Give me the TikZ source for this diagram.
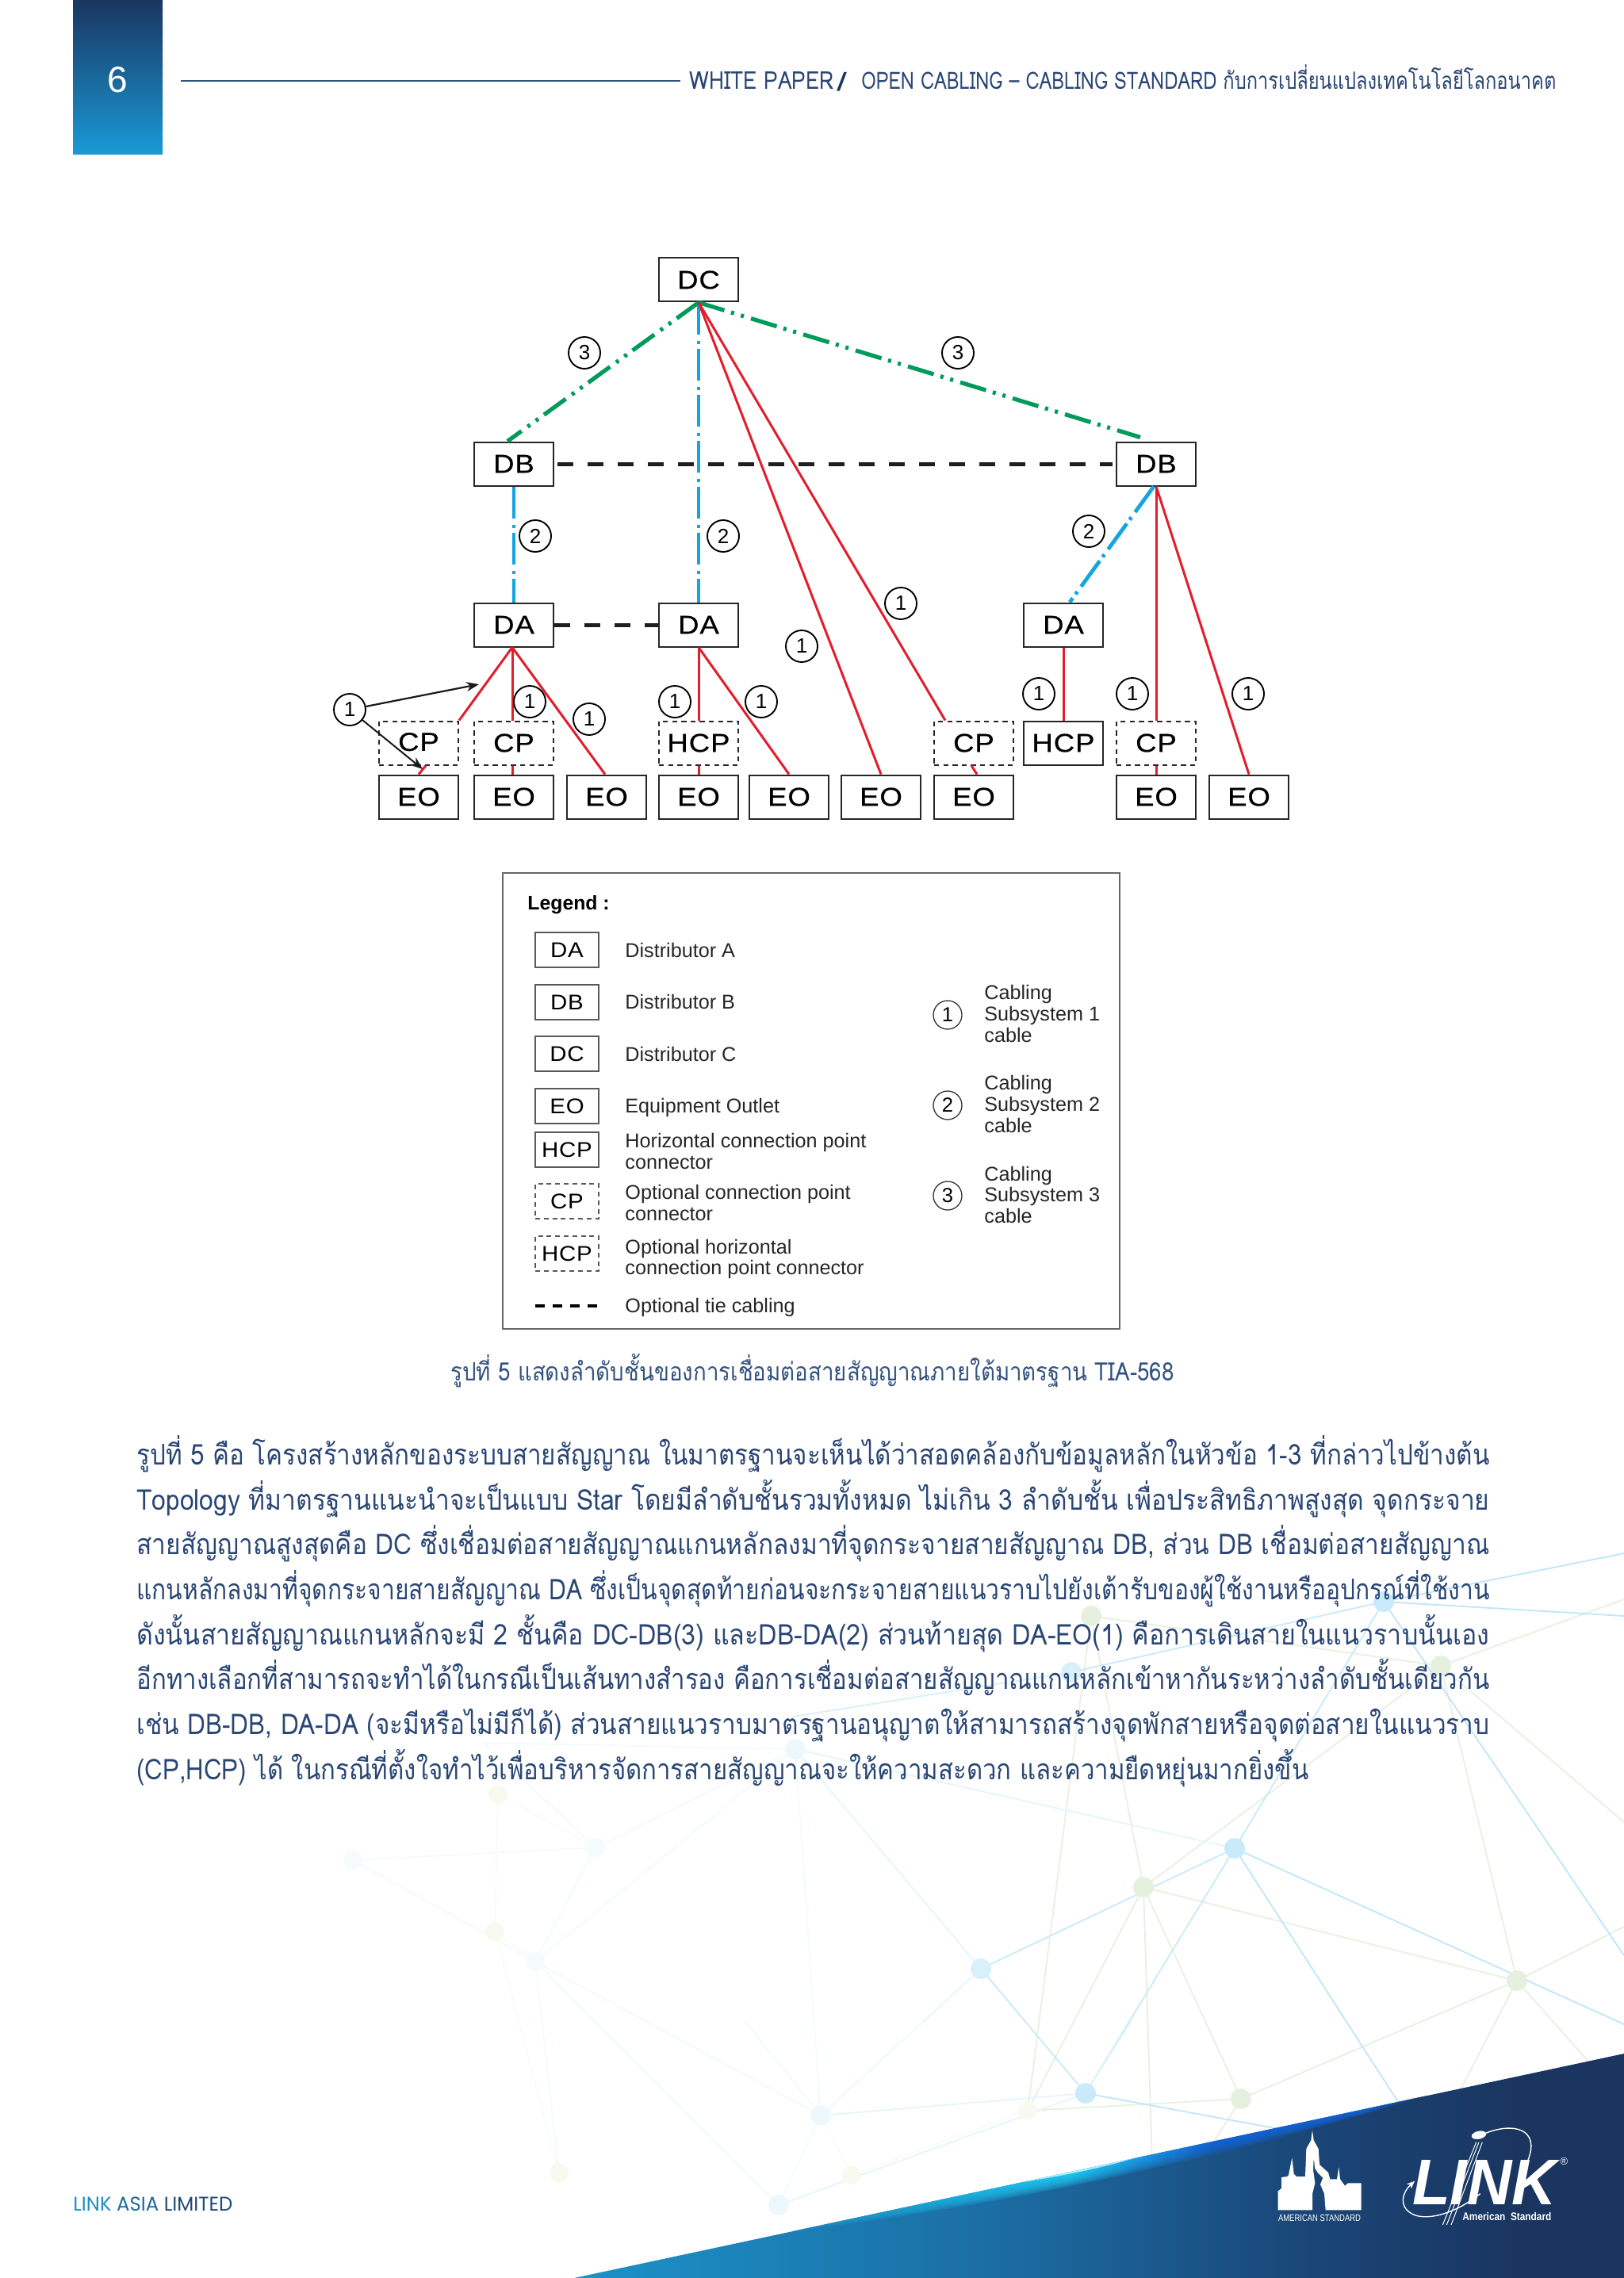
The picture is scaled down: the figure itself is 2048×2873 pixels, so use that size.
\documentclass[tikz,border=0pt]{standalone}
\usepackage{fontspec}
\usepackage{graphicx}
\usetikzlibrary{calc,arrows.meta}
\setmainfont{Liberation Sans}
\newfontfamily\thaifont[Script=Thai]{Loma}
\newfontfamily\boxfont[LetterSpace=3,FakeStretch=1.12,FakeBold=0.45]{Liberation Sans}
\newfontfamily\legboxfont[LetterSpace=3,FakeStretch=1.1]{Liberation Sans}
\newfontfamily\popfont{Poppins}
\newcommand\fitw[2]{\resizebox{#1}{\height}{#2}}
\definecolor{navy}{HTML}{1A3560}
\definecolor{ink}{HTML}{2A4675}
\definecolor{capt}{HTML}{34527F}
\definecolor{sky}{HTML}{1A9AD6}
\definecolor{redl}{HTML}{E21E2D}
\definecolor{bluel}{HTML}{14A5E0}
\definecolor{greenl}{HTML}{009A5A}
\definecolor{tria}{HTML}{1B93C9}
\definecolor{trib}{HTML}{1B6DA3}
\definecolor{tric}{HTML}{1A4677}
\definecolor{hla}{HTML}{1B86BE}
\definecolor{hlb}{HTML}{20D8FF}
\definecolor{hlc}{HTML}{1166E0}
\definecolor{hld}{HTML}{1A3F70}
\definecolor{streak}{HTML}{C8F6FF}
\definecolor{bgG}{RGB}{232,240,224}
\definecolor{bgGp}{RGB}{249,251,245}
\definecolor{bgBa}{RGB}{200,234,248}
\definecolor{bgBb}{RGB}{191,230,248}
\definecolor{bgBc}{RGB}{215,240,250}
\definecolor{bgBd}{RGB}{228,245,252}
\definecolor{bgBp}{RGB}{243,250,253}
\definecolor{bgBq}{RGB}{232,246,252}
\definecolor{dotA}{RGB}{200,234,250}
\definecolor{dotB}{RGB}{215,240,250}
\definecolor{dotC}{RGB}{236,248,252}
\definecolor{dotD}{RGB}{245,251,253}
\definecolor{dotG}{RGB}{230,240,222}
\definecolor{dotH}{RGB}{248,250,240}
\definecolor{rulec}{RGB}{50,85,125}
\pgfdeclarehorizontalshading{tribase}{100bp}{color(0bp)=(tria); color(25bp)=(tria); color(45bp)=(trib); color(60bp)=(tric); color(70bp)=(navy); color(100bp)=(navy)}
\pgfdeclarehorizontalshading{glow}{100bp}{color(0bp)=(hla); color(25bp)=(hla); color(47bp)=(hlb); color(58bp)=(hlc); color(70bp)=(hlc); color(75bp)=(hld); color(100bp)=(hld)}
\tikzset{
  boxs/.style={draw=black!85,line width=1pt,fill=white,minimum width=50pt,minimum height=27.5pt,inner sep=0pt,font=\boxfont\fontsize{16.3}{18}\selectfont},
  dboxs/.style={boxs,dash pattern=on 3.2pt off 2.6pt},
  lbox/.style={draw=black!65,line width=.6pt,minimum width=40pt,minimum height=22pt,inner sep=0pt,font=\legboxfont\fontsize{13.4}{15}\selectfont},
  dlbox/.style={lbox,dash pattern=on 3pt off 2.4pt},
  cnum/.style={circle,draw=black,line width=.95pt,fill=white,minimum size=20pt,inner sep=0pt,font=\fontsize{13}{14}\selectfont},
  lnum/.style={circle,draw=black!80,line width=.65pt,fill=white,minimum size=18pt,inner sep=0pt,font=\fontsize{12.8}{14}\selectfont},
  legt/.style={anchor=base west,inner sep=0pt,font=\fontsize{12.6}{14}\selectfont,text=black!85},
  body/.style={anchor=base west,inner sep=0pt,font=\thaifont\fontsize{18}{20}\selectfont,text=ink},
  redc/.style={draw=redl,line width=1.5pt},
  bluec/.style={draw=bluel,line width=2.4pt,dash pattern=on 20pt off 4pt on 2pt off 3pt},
  greenc/.style={draw=greenl,line width=2.6pt,dash pattern=on 17pt off 4.4pt on 2pt off 4.4pt on 2pt off 4.7pt},
  tiec/.style={draw=black!88,line width=2.5pt,dash pattern=on 10pt off 9pt},
  bgl/.style={draw=#1,line width=.9pt},
}
\begin{document}
\begin{tikzpicture}[x=0.5pt,y=-0.5pt]
\path[use as bounding box] (0,0) rectangle (2048,2873);
% background network
\coordinate (n1) at (1557,2331); \coordinate (n2) at (1237,2483); \coordinate (n3) at (1369,2640);
\coordinate (n4) at (1035,2668); \coordinate (n5) at (1745,2020); \coordinate (n6) at (1351,2109);
\coordinate (n7) at (1003,2206);
\coordinate (g1) at (1442,2380); \coordinate (g2) at (1913,2498); \coordinate (g3) at (1817,2101);
\coordinate (g4) at (1376,2038); \coordinate (g5) at (1565,2647); \coordinate (g6) at (1296,2662);
\coordinate (g7) at (1074,2743);
\coordinate (p2) at (982,2781); \coordinate (p3) at (675,2474); \coordinate (p4) at (751,2330);
\coordinate (p5) at (445,2346); \coordinate (p7) at (610,2198);
\coordinate (q1) at (624,2436); \coordinate (q2) at (628,2263); \coordinate (q3) at (705,2740);
% pale left part
\foreach \a/\b in {n4/p3,n7/p4,p3/p2,p3/p4,p4/p5,p3/p5,p7/p4,p7/n7,q3/p3,n7/p3}
  \draw[bgl=bgBp] (\a) -- (\b);
\foreach \a/\b in {q1/q2,q1/p3,q2/p4,q3/q1}
  \draw[bgl=bgGp] (\a) -- (\b);
% green lines
\foreach \a/\b in {g1/g2,g1/g5,g1/g6,g1/g3,g1/g4,g2/g3,g2/g5,g3/g4,g4/g6,g5/g6}
  \draw[bgl=bgG] (\a) -- (\b);
\foreach \a/\b in {g7/g6,g7/n4}
  \draw[bgl=bgGp] (\a) -- (\b);
\foreach \ex/\ey in {2048/2430,1829/2660,2003/2600}
  \draw[bgl=bgG] (g2) -- (\ex,\ey);
\foreach \ex/\ey in {2048/2298,2048/2017}
  \draw[bgl=bgG] (g3) -- (\ex,\ey);
\draw[bgl=bgG] (g1) -- (1454,2760);
\draw[bgl=bgG] (g5) -- (1500,2750);
% blue lines
\foreach \a/\b in {n1/n5,n1/n2,n1/n3,n2/n3,n5/n6}
  \draw[bgl=bgBa] (\a) -- (\b);
\foreach \a/\b in {n1/n7,n2/n4,n2/n7,n3/n4,n3/p2}
  \draw[bgl=bgBd] (\a) -- (\b);
\foreach \a/\b in {n4/p2,n7/n4}
  \draw[bgl=bgBp] (\a) -- (\b);
\draw[bgl=bgBb] (n1) -- (2048,2553);
\draw[bgl=bgBb] (n1) -- (1769,2660);
\draw[bgl=bgBb] (n3) -- (1640,2690);
\draw[bgl=bgBb] (n5) -- (2048,2038);
\draw[bgl=bgBb] (n5) -- (2048,1959);
\draw[bgl=bgBb] (n5) -- (2048,2466);
\draw[bgl=bgBc] (n6) -- (1000,2165);
\draw[bgl=bgBd] (n3) -- (1426,2550);
\draw[bgl=bgBp] (n4) -- (1164,2550);
\draw[bgl=bgBp] (n4) -- (940,2550);
\draw[bgl=bgBp] (n4) -- (816,2550);
% network dots
\foreach \c in {n1,n3,n5} \fill[dotA] (\c) circle [radius=13];
\foreach \c in {n2,n6} \fill[dotB] (\c) circle [radius=13];
\foreach \c in {n4,n7,p2} \fill[dotC] (\c) circle [radius=13];
\foreach \c in {p3,p4,p5} \fill[dotD] (\c) circle [radius=12];
\foreach \c in {g1,g2,g3,g4,g5} \fill[dotG] (\c) circle [radius=13];
\foreach \c in {g6,g7,q1,q2,q3} \fill[dotH] (\c) circle [radius=12];
% footer wedge
\shade[shading=tribase] (724,2873) -- (2048,2590) -- (2048,2873) -- cycle;
\foreach \d in {3,6,...,24}
  \shade[shading=glow,opacity=.22] (1000,2814) .. controls (1267,{2757+\d}) and (1533,{2700+\d}) .. (1800,2643) -- cycle;
\fill[streak,opacity=.85] (1290,2752) .. controls (1340,{2741+3}) and (1390,{2731+3}) .. (1430,2722) -- cycle;
% logos
\begin{scope}[shift={(1590,2660)},scale=0.33333]
\fill[white] (65,382) -- (65,310) -- (78,300) -- (78,258) -- (100,255) -- (105,250) -- (118,185) -- (125,245) -- (135,255) -- (168,255) -- (172,150) -- (190,118) -- (195,80) -- (200,118) -- (218,150) -- (222,210) -- (255,240) -- (262,265) -- (288,265) -- (295,220) -- (300,265) -- (318,290) -- (330,280) -- (380,280) -- (380,382) -- (245,382) -- (240,320) -- (225,285) -- (235,260) -- (215,240) -- (205,225) -- (200,185) -- (198,230) -- (205,280) -- (195,320) -- (195,382) -- cycle;
\node[inner sep=0pt,text=white] (logoA) at (222,413) {\fitw{52pt}{\fontsize{6}{7}\selectfont AMERICAN STANDARD}};
\node[inner sep=0pt,text=white,anchor=base west] (logoL) at (572,362) {\resizebox{91pt}{28pt}{\bfseries\itshape LINK}};
\node[inner sep=0pt,text=white,anchor=base west] (logoS) at (762,420) {\fitw{56pt}{\bfseries\fontsize{7}{8}\selectfont American\ \ Standard}};
\node[inner sep=0pt,text=white] (logoR) at (1147,198) {\fontsize{6.5}{7}\selectfont ®};
\fill[white,rotate around={12:(825,98)}] (825,98) ellipse [x radius=28,y radius=15];
\draw[white,line width=.5pt] (815,125) -- (688,438);
\draw[white,line width=.5pt] (825,125) -- (703,438);
\draw[white,line width=.5pt] (838,125) -- (720,438);
\draw[white,line width=.7pt] (848,92) .. controls (950,50) and (1060,70) .. (1010,195);
\draw[white,line width=.7pt,-{Stealth[length=5pt,width=4pt]}] (830,320) .. controls (730,400) and (620,425) .. (570,395) .. controls (525,370) and (530,320) .. (582,272);
\end{scope}
% header
\shade[top color=navy,bottom color=sky] (92,0) rectangle (205,195);
\node[inner sep=0pt,text=white,font=\fontsize{23}{25}\selectfont] (pgno) at (148,101) {6};
\coordinate (hl0) at (228,102); \coordinate (hl1) at (858,102);
\draw[draw=rulec,line width=1pt] (hl0) -- (hl1);
\node[body] (h1) at (869,113) {\fitw{91pt}{\fontsize{15.5}{17}\selectfont WHITE PAPER}};
\node[inner sep=0pt,text=navy,anchor=base west] (h2) at (1056,115) {\bfseries\itshape\fontsize{16}{18}\selectfont /};
\node[body] (h3) at (1086,113) {\fitw{438pt}{\fontsize{15}{17}\selectfont OPEN CABLING – CABLING STANDARD กับการเปลี่ยนแปลงเทคโนโลยีโลกอนาคต}};
% diagram boxes
\node[boxs] (dc) at (881,353) {DC};
\node[boxs] (dbl) at (648,585) {DB};
\node[boxs] (dbr) at (1458,585) {DB};
\node[boxs] (dal) at (648,788) {DA};
\node[boxs] (dam) at (881,788) {DA};
\node[boxs] (dar) at (1341,788) {DA};
\node[dboxs] (cp1) at (528,937) {\raisebox{1.5pt}{CP}};
\node[dboxs] (cp2) at (648,937) {CP};
\node[dboxs] (hcp1) at (881,937) {HCP};
\node[dboxs] (cp3) at (1228,937) {CP};
\node[boxs] (hcp2) at (1341,937) {HCP};
\node[dboxs] (cp4) at (1458,937) {CP};
\node[boxs] (eo1) at (528,1005) {EO};
\node[boxs] (eo2) at (648,1005) {EO};
\node[boxs] (eo3) at (765,1005) {EO};
\node[boxs] (eo4) at (881,1005) {EO};
\node[boxs] (eo5) at (995,1005) {EO};
\node[boxs] (eo6) at (1111,1005) {EO};
\node[boxs] (eo7) at (1228,1005) {EO};
\node[boxs] (eo8) at (1458,1005) {EO};
\node[boxs] (eo9) at (1575,1005) {EO};
% connectors
\draw[tiec] ($(dbl.east)+(4,0)$) -- ($(dbr.west)+(-4,0)$);
\draw[tiec] (dal.east) -- (dam.west);
\draw[bluec] (dbl.south) -- (dal.north);
\draw[bluec] (dc.south) -- (dam.north);
\draw[bluec] ($(dbr.south)+(-3,0)$) -- ($(dar.north)+(8,0)$);
\draw[greenc] (dc.south) -- ($(dbl.north)+(-8,0)$);
\draw[greenc] (dc.south) -- ($(dbr.north)+(-20,-5)$);
\draw[redc] (dc.south) -- (eo6.north);
\draw[redc] (dc.south) -- ($(cp3.north)+(-36,0)$);
\draw[redc] (dbr.south) -- (cp4.north);
\draw[redc] (dbr.south) -- (eo9.north);
\draw[redc] (cp4.south) -- (eo8.north);
\draw[redc] (dar.south) -- (hcp2.north);
\draw[redc] (dam.south) -- (hcp1.north);
\draw[redc] (dam.south) -- (eo5.north);
\draw[redc] (hcp1.south) -- (eo4.north);
\draw[redc] ($(dal.south)+(-2,0)$) -- (cp1.north east);
\draw[redc] ($(dal.south)+(-2,0)$) -- ($(cp2.north)+(-2,0)$);
\draw[redc] ($(dal.south)+(-2,0)$) -- ($(eo3.north)+(-2,0)$);
\draw[redc] ($(cp2.south)+(-2,0)$) -- ($(eo2.north)+(-2,0)$);
\draw[redc] ($(cp1.south)+(9,0)$) -- (eo1.north);
\draw[redc] ($(cp3.south)+(-3,0)$) -- ($(eo7.north)+(4,0)$);
% circled numbers
\node[cnum] (c3a) at (737,445) {3};
\node[cnum] (c3b) at (1208,445) {3};
\node[cnum] (c2a) at (675,676) {2};
\node[cnum] (c2b) at (912,676) {2};
\node[cnum] (c2c) at (1373,670) {2};
\node[cnum] (c1a) at (441,895) {1};
\node[cnum] (c1b) at (668,885) {1};
\node[cnum] (c1c) at (743,907) {1};
\node[cnum] (c1d) at (851,885) {1};
\node[cnum] (c1e) at (960,885) {1};
\node[cnum] (c1f) at (1011,815) {1};
\node[cnum] (c1g) at (1136,761) {1};
\node[cnum] (c1h) at (1310,875) {1};
\node[cnum] (c1i) at (1428,875) {1};
\node[cnum] (c1j) at (1574,875) {1};
\coordinate (arr1) at (604,863);
\coordinate (arr2) at (533,970);
\draw[black!90,line width=1.1pt,-{Stealth[length=8pt,width=6pt]}] (c1a) -- (arr1);
\draw[black!90,line width=1pt,-{Stealth[length=8pt,width=6pt]}] (c1a) -- (arr2);
% legend
\node[draw=black!60,line width=.7pt,minimum width=389pt,minimum height=287.5pt,inner sep=0pt] (legend) at (1023,1388.5) {};
\node[legt,font=\bfseries\fontsize{12.4}{14}\selectfont,text=black] (legT) at (665,1147) {Legend :};
\node[lbox] (lda) at (715,1198) {DA};
\node[lbox] (ldb) at (715,1264) {DB};
\node[lbox] (ldc) at (715,1329) {DC};
\node[lbox] (leo) at (715,1395) {EO};
\node[lbox] (lhcp) at (715,1450) {HCP};
\node[dlbox] (lcp) at (715,1515) {CP};
\node[dlbox] (lohcp) at (715,1581) {HCP};
\node[legt] (t1) at (788,1207) {Distributor A};
\node[legt] (t2) at (788,1272) {Distributor B};
\node[legt] (t3) at (788,1338) {Distributor C};
\node[legt] (t4) at (788,1403) {Equipment Outlet};
\node[legt] (t5a) at (788,1447) {Horizontal connection point};
\node[legt] (t5b) at (788,1474) {connector};
\node[legt] (t6a) at (788,1512) {Optional connection point};
\node[legt] (t6b) at (788,1539) {connector};
\node[legt] (t7a) at (788,1581) {Optional horizontal};
\node[legt] (t7b) at (788,1607) {connection point connector};
\node[legt] (t8) at (788,1655) {Optional tie cabling};
\coordinate (ltie0) at (675,1647); \coordinate (ltie1) at (757,1647);
\draw[draw=black,line width=1.7pt,dash pattern=on 6pt off 5pt] (ltie0) -- (ltie1);
\node[lnum] (ln1) at (1195,1280) {1};
\node[lnum] (ln2) at (1195,1394) {2};
\node[lnum] (ln3) at (1195,1508) {3};
\node[legt] (s1a) at (1241,1260) {Cabling};
\node[legt] (s1b) at (1241,1287) {Subsystem 1};
\node[legt] (s1c) at (1241,1314) {cable};
\node[legt] (s2a) at (1241,1374) {Cabling};
\node[legt] (s2b) at (1241,1401) {Subsystem 2};
\node[legt] (s2c) at (1241,1428) {cable};
\node[legt] (s3a) at (1241,1489) {Cabling};
\node[legt] (s3b) at (1241,1515) {Subsystem 3};
\node[legt] (s3c) at (1241,1542) {cable};
% caption
\node[body,text=capt] (cap) at (568,1741) {\fitw{456pt}{\fontsize{16}{18}\selectfont รูปที่ 5 แสดงลำดับชั้นของการเชื่อมต่อสายสัญญาณภายใต้มาตรฐาน TIA-568}};
% body
\node[body] (l1) at (172,1847) {\fitw{853pt}{รูปที่ 5 คือ โครงสร้างหลักของระบบสายสัญญาณ ในมาตรฐานจะเห็นได้ว่าสอดคล้องกับข้อมูลหลักในหัวข้อ 1-3 ที่กล่าวไปข้างต้น}};
\node[body] (l2) at (172,1904) {\fitw{853pt}{Topology ที่มาตรฐานแนะนำจะเป็นแบบ Star โดยมีลำดับชั้นรวมทั้งหมด ไม่เกิน 3 ลำดับชั้น เพื่อประสิทธิภาพสูงสุด จุดกระจาย}};
\node[body] (l3) at (172,1960) {\fitw{853pt}{สายสัญญาณสูงสุดคือ DC ซึ่งเชื่อมต่อสายสัญญาณแกนหลักลงมาที่จุดกระจายสายสัญญาณ DB, ส่วน DB เชื่อมต่อสายสัญญาณ}};
\node[body] (l4) at (172,2017) {\fitw{853pt}{แกนหลักลงมาที่จุดกระจายสายสัญญาณ DA ซึ่งเป็นจุดสุดท้ายก่อนจะกระจายสายแนวราบไปยังเต้ารับของผู้ใช้งานหรืออุปกรณ์ที่ใช้งาน}};
\node[body] (l5) at (172,2074) {\fitw{853pt}{ดังนั้นสายสัญญาณแกนหลักจะมี 2 ชั้นคือ DC-DB(3) และDB-DA(2) ส่วนท้ายสุด DA-EO(1) คือการเดินสายในแนวราบนั้นเอง}};
\node[body] (l6) at (172,2130) {\fitw{853pt}{อีกทางเลือกที่สามารถจะทำได้ในกรณีเป็นเส้นทางสำรอง คือการเชื่อมต่อสายสัญญาณแกนหลักเข้าหากันระหว่างลำดับชั้นเดียวกัน}};
\node[body] (l7) at (172,2187) {\fitw{853pt}{เช่น DB-DB, DA-DA (จะมีหรือไม่มีก็ได้) ส่วนสายแนวราบมาตรฐานอนุญาตให้สามารถสร้างจุดพักสายหรือจุดต่อสายในแนวราบ}};
\node[body] (l8) at (172,2244) {\fitw{739pt}{(CP,HCP) ได้ ในกรณีที่ตั้งใจทำไว้เพื่อบริหารจัดการสายสัญญาณจะให้ความสะดวก และความยืดหยุ่นมากยิ่งขึ้น}};
% footer text
\node[anchor=base west,inner sep=0pt] (foot) at (92,2788) {\fitw{100.5pt}{\popfont\fontsize{12.5}{14}\selectfont \textcolor[HTML]{1E8FC0}{LINK} \textcolor[HTML]{1C6A9A}{ASIA} \textcolor[HTML]{1F4A78}{LIMITED}}};
\end{tikzpicture}
\end{document}
